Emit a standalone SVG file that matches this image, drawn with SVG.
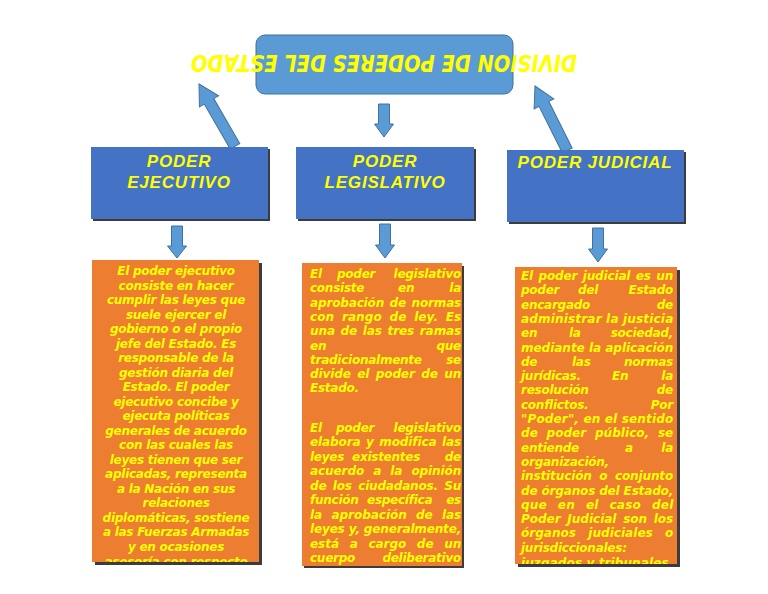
<svg xmlns="http://www.w3.org/2000/svg" width="768" height="594" viewBox="0 0 768 594">
<defs>
<style>
.arrow{fill:#5B9BD5;stroke:#41719C;stroke-width:1}
.hdr{fill:#4472C4}
.shadow{fill:#1a1a1a;opacity:0.85}
.org{fill:#ED7D31}
.ht{font-family:"Liberation Sans",Arial,sans-serif;font-weight:bold;font-style:italic;font-size:17px;fill:#FFFF00;letter-spacing:0.8px}
.bt{font-family:"DejaVu Sans",sans-serif;font-weight:bold;font-style:oblique;font-size:12px;fill:#FFFF00;letter-spacing:-0.25px}
.c{text-anchor:middle}
.e{text-anchor:end}
</style>
<clipPath id="clipL"><rect x="92" y="260" width="167" height="302"/></clipPath>
<clipPath id="clipM"><rect x="302" y="263" width="160" height="303"/></clipPath>
<clipPath id="clipR"><rect x="515" y="267" width="162" height="297"/></clipPath>
</defs>
<rect width="768" height="594" fill="#ffffff"/>

<g id="connectors">
<path class="arrow" transform="translate(199,84) rotate(-30)" d="M0,0 L11,20 L5.5,20 L5.5,72 L-5.5,72 L-5.5,20 L-11,20 Z"/>
<path class="arrow" transform="translate(535,86) rotate(-26.6)" d="M0,0 L11,20 L5.5,20 L5.5,72 L-5.5,72 L-5.5,20 L-11,20 Z"/>
<path class="arrow" transform="translate(384,104)" d="M-5.5,0 H5.5 V20 H9.5 L0,33 L-9.5,20 H-5.5 Z"/>
<path class="arrow" transform="translate(177,226)" d="M-5.5,0 H5.5 V20 H9.5 L0,32 L-9.5,20 H-5.5 Z"/>
<path class="arrow" transform="translate(385,224)" d="M-5.5,0 H5.5 V21 H9.5 L0,34 L-9.5,21 H-5.5 Z"/>
<path class="arrow" transform="translate(598,228)" d="M-5.5,0 H5.5 V21 H9.5 L0,34 L-9.5,21 H-5.5 Z"/>
</g>

<g id="title">
<rect x="256" y="35" width="257" height="59" rx="9" fill="#5B9BD5" stroke="#41719C" stroke-width="1"/>
<text transform="rotate(180 384 64)" x="384" y="73" text-anchor="middle" textLength="386" lengthAdjust="spacingAndGlyphs" style="font-family:'DejaVu Sans',sans-serif;font-weight:bold;font-style:oblique;font-size:23px;fill:#FFFF00">DIVISION DE PODERES DEL ESTADO</text>
</g>

<g id="exec">
<rect class="shadow" x="93" y="149" width="177" height="72"/>
<rect class="hdr" x="91" y="147" width="177" height="72"/>
<text class="ht c" x="179" y="167">PODER</text>
<text class="ht c" x="179" y="188">EJECUTIVO</text>
</g>

<g id="legis">
<rect class="shadow" x="298" y="149" width="178" height="72"/>
<rect class="hdr" x="296" y="147" width="178" height="72"/>
<text class="ht c" x="385" y="167">PODER</text>
<text class="ht c" x="385" y="188">LEGISLATIVO</text>
</g>

<g id="judicial">
<rect class="shadow" x="509" y="152" width="177" height="72"/>
<rect class="hdr" x="507" y="150" width="177" height="72"/>
<text class="ht c" x="595" y="168">PODER JUDICIAL</text>
</g>

<g id="exec-text">
<rect class="shadow" x="95" y="263" width="167" height="302"/>
<rect class="org" x="92" y="260" width="167" height="302"/>
<g clip-path="url(#clipL)">
<text class="bt c" x="176" y="275">El poder ejecutivo</text>
<text class="bt c" x="176" y="289.5">consiste en hacer</text>
<text class="bt c" x="176" y="304">cumplir las leyes que</text>
<text class="bt c" x="176" y="318.5">suele ejercer el</text>
<text class="bt c" x="176" y="333">gobierno o el propio</text>
<text class="bt c" x="176" y="347.5">jefe del Estado. Es</text>
<text class="bt c" x="176" y="362">responsable de la</text>
<text class="bt c" x="176" y="376.5">gestión diaria del</text>
<text class="bt c" x="176" y="391">Estado. El poder</text>
<text class="bt c" x="176" y="405.5">ejecutivo concibe y</text>
<text class="bt c" x="176" y="420">ejecuta políticas</text>
<text class="bt c" x="176" y="434.5">generales de acuerdo</text>
<text class="bt c" x="176" y="449">con las cuales las</text>
<text class="bt c" x="176" y="463.5">leyes tienen que ser</text>
<text class="bt c" x="176" y="478">aplicadas, representa</text>
<text class="bt c" x="176" y="492.5">a la Nación en sus</text>
<text class="bt c" x="176" y="507">relaciones</text>
<text class="bt c" x="176" y="521.5">diplomáticas, sostiene</text>
<text class="bt c" x="176" y="536">a las Fuerzas Armadas</text>
<text class="bt c" x="176" y="550.5">y en ocasiones</text>
<text class="bt c" x="176" y="566">asesoría con respecto</text>
</g>
</g>

<g id="legis-text">
<rect class="shadow" x="304" y="266" width="160" height="302"/>
<rect class="org" x="302" y="263" width="160" height="303"/>
<g clip-path="url(#clipM)">
<text class="bt" x="310" y="278">El</text><text class="bt" x="337" y="278">poder</text><text class="bt e" x="461" y="278">legislativo</text>
<text class="bt" x="310" y="292.3">consiste</text><text class="bt" x="398" y="292.3">en</text><text class="bt e" x="461" y="292.3">la</text>
<text class="bt" x="310" y="306.6" textLength="151" lengthAdjust="spacing" style="word-spacing:1.5px">aprobación de normas</text>
<text class="bt" x="310" y="320.9" textLength="151" lengthAdjust="spacing" style="word-spacing:3.5px">con rango de ley. Es</text>
<text class="bt" x="310" y="335.2" textLength="151" lengthAdjust="spacing" style="word-spacing:1.5px">una de las tres ramas</text>
<text class="bt" x="310" y="349.5">en</text><text class="bt e" x="461" y="349.5">que</text>
<text class="bt" x="310" y="363.8">tradicionalmente</text><text class="bt e" x="461" y="363.8">se</text>
<text class="bt" x="310" y="378.1" textLength="151" lengthAdjust="spacing" style="word-spacing:2.5px">divide el poder de un</text>
<text class="bt" x="310" y="392.4">Estado.</text>
<text class="bt" x="310" y="431.5">El</text><text class="bt" x="336" y="431.5">poder</text><text class="bt e" x="461" y="431.5">legislativo</text>
<text class="bt" x="310" y="446" textLength="151" lengthAdjust="spacing" style="word-spacing:1.5px">elabora y modifica las</text>
<text class="bt" x="310" y="460.5">leyes</text><text class="bt" x="352" y="460.5">existentes</text><text class="bt e" x="461" y="460.5">de</text>
<text class="bt" x="310" y="475" textLength="151" lengthAdjust="spacing" style="word-spacing:5px">acuerdo a la opinión</text>
<text class="bt" x="310" y="489.5" textLength="151" lengthAdjust="spacing" style="word-spacing:2.5px">de los ciudadanos. Su</text>
<text class="bt" x="310" y="504">función</text><text class="bt" x="367" y="504">específica</text><text class="bt e" x="461" y="504">es</text>
<text class="bt" x="310" y="518.5" textLength="151" lengthAdjust="spacing" style="word-spacing:5px">la aprobación de las</text>
<text class="bt" x="310" y="533" textLength="151" lengthAdjust="spacing">leyes y, generalmente,</text>
<text class="bt" x="310" y="547.5" textLength="151" lengthAdjust="spacing" style="word-spacing:6.5px">está a cargo de un</text>
<text class="bt" x="310" y="562">cuerpo</text><text class="bt e" x="461" y="562">deliberativo</text>
</g>
</g>

<g id="judicial-text">
<rect class="shadow" x="518" y="270" width="162" height="297"/>
<rect class="org" x="515" y="267" width="162" height="297"/>
<g clip-path="url(#clipR)">
<text class="bt" x="521" y="280" textLength="152" lengthAdjust="spacing" style="word-spacing:1.5px">El poder judicial es un</text>
<text class="bt" x="521" y="294.3">poder</text><text class="bt" x="578" y="294.3">del</text><text class="bt e" x="673" y="294.3">Estado</text>
<text class="bt" x="521" y="308.6">encargado</text><text class="bt e" x="673" y="308.6">de</text>
<text class="bt" x="521" y="322.9" textLength="152" lengthAdjust="spacing">administrar la justicia</text>
<text class="bt" x="521" y="337.2">en</text><text class="bt" x="569" y="337.2">la</text><text class="bt e" x="673" y="337.2">sociedad,</text>
<text class="bt" x="521" y="351.5" textLength="152" lengthAdjust="spacing">mediante la aplicación</text>
<text class="bt" x="521" y="365.8">de</text><text class="bt" x="572" y="365.8">las</text><text class="bt e" x="673" y="365.8">normas</text>
<text class="bt" x="521" y="380.1">jurídicas.</text><text class="bt" x="612" y="380.1">En</text><text class="bt e" x="673" y="380.1">la</text>
<text class="bt" x="521" y="394.4">resolución</text><text class="bt e" x="673" y="394.4">de</text>
<text class="bt" x="521" y="408.7">conflictos.</text><text class="bt e" x="673" y="408.7">Por</text>
<text class="bt" x="521" y="423" textLength="152" lengthAdjust="spacing">"Poder", en el sentido</text>
<text class="bt" x="521" y="437.3" textLength="152" lengthAdjust="spacing" style="word-spacing:4.5px">de poder público, se</text>
<text class="bt" x="521" y="451.6">entiende</text><text class="bt" x="625" y="451.6">a</text><text class="bt e" x="673" y="451.6">la</text>
<text class="bt" x="521" y="465.9">organización,</text>
<text class="bt" x="521" y="480.2" textLength="152" lengthAdjust="spacing" style="word-spacing:3.5px">institución o conjunto</text>
<text class="bt" x="521" y="494.5" textLength="152" lengthAdjust="spacing">de órganos del Estado,</text>
<text class="bt" x="521" y="508.8" textLength="152" lengthAdjust="spacing" style="word-spacing:6.5px">que en el caso del</text>
<text class="bt" x="521" y="523.1" textLength="152" lengthAdjust="spacing" style="word-spacing:2.5px">Poder Judicial son los</text>
<text class="bt" x="521" y="537.4" textLength="152" lengthAdjust="spacing" style="word-spacing:8px">órganos judiciales o</text>
<text class="bt" x="521" y="551.7">jurisdiccionales:</text>
<text class="bt" x="521" y="567" textLength="152" lengthAdjust="spacing">juzgados y tribunales.</text>
</g>
</g>
</svg>
